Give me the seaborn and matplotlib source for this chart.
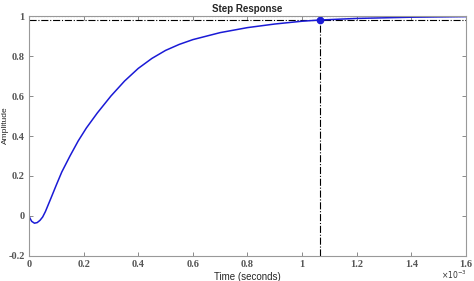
import matplotlib
matplotlib.use("Agg")
import matplotlib.pyplot as plt
import seaborn as sns
import pandas as pd

# data (time in ms, i.e. x10^-3 s)
time_ms = [0, 0.005, 0.01, 0.02, 0.03, 0.04, 0.05, 0.06, 0.08, 0.10, 0.12, 0.15,
           0.18, 0.21, 0.25, 0.30, 0.35, 0.40, 0.45, 0.50, 0.55, 0.60, 0.70,
           0.80, 0.90, 1.00, 1.066, 1.2, 1.4, 1.6]
amplitude = [0, -0.015, -0.027, -0.036, -0.033, -0.022, -0.005, 0.022, 0.088, 0.155,
             0.22, 0.30, 0.375, 0.44, 0.515, 0.60, 0.675, 0.738, 0.788, 0.828,
             0.858, 0.882, 0.917, 0.942, 0.96, 0.974, 0.98, 0.988, 0.994, 0.997]
settle_t = 1.066
settle_y = 0.98
final_y = 1.0
xticks = [0, 0.2, 0.4, 0.6, 0.8, 1.0, 1.2, 1.4, 1.6]
xticklabels = ["0", "0.2", "0.4", "0.6", "0.8", "1", "1.2", "1.4", "1.6"]
yticks = [-0.2, 0, 0.2, 0.4, 0.6, 0.8, 1.0]
yticklabels = ["-0.2", "0", "0.2", "0.4", "0.6", "0.8", "1"]

sns.set_style("white")
plt.rcParams['font.family'] = ['DejaVu Sans']

df = pd.DataFrame({"t": time_ms, "y": amplitude})

fig = plt.figure(figsize=(4.74, 2.81), dpi=100)
ax = fig.add_axes([0.0612, 0.089, 0.9218, 0.854])

ax.axhline(final_y, color="black", ls=":", lw=0.8)
ax.axhline(settle_y, color="black", ls="-.", lw=0.8)
ax.plot([settle_t, settle_t], [-0.2, settle_y], color="black", ls="-.", lw=0.8)
sns.lineplot(data=df, x="t", y="y", ax=ax, color="#1a1ad6", lw=1.1)
ax.plot([settle_t], [settle_y], "o", color="#1a1ad6", ms=4.5)

ax.set_xlim(0, 1.6)
ax.set_ylim(-0.2, 1.0)
ax.set_xticks(xticks)
ax.set_xticklabels(xticklabels, family="Liberation Serif", fontsize=7.5, color="#555555", fontweight="bold")
ax.set_yticks(yticks)
ax.set_yticklabels(yticklabels, family="Liberation Serif", fontsize=7.5, color="#555555", fontweight="bold")
ax.tick_params(direction="in", length=3, width=0.6, color="#777777", top=True, right=True,
               bottom=True, left=True, pad=3)
for s in ax.spines.values():
    s.set_color("#999999")
    s.set_linewidth(0.8)

ax.set_xlabel("Time (seconds)", family="Liberation Sans", fontsize=7, labelpad=2)
ax.set_ylabel("Amplitude", family="Liberation Sans", fontsize=6)
ax.yaxis.label.set_va("center")
ax.yaxis.label.set_ha("center")
ax.yaxis.set_label_coords(-0.053, 0.546)
ax.set_title("Step Response", family="Liberation Sans", fontsize=7, fontweight="bold", pad=3)
fig.text(0.985, 0.021, r"$\times10^{-3}$", ha="right", va="center", fontsize=5.5,
         family="Liberation Serif", color="#333333")

fig.savefig("out.png", dpi=100)
